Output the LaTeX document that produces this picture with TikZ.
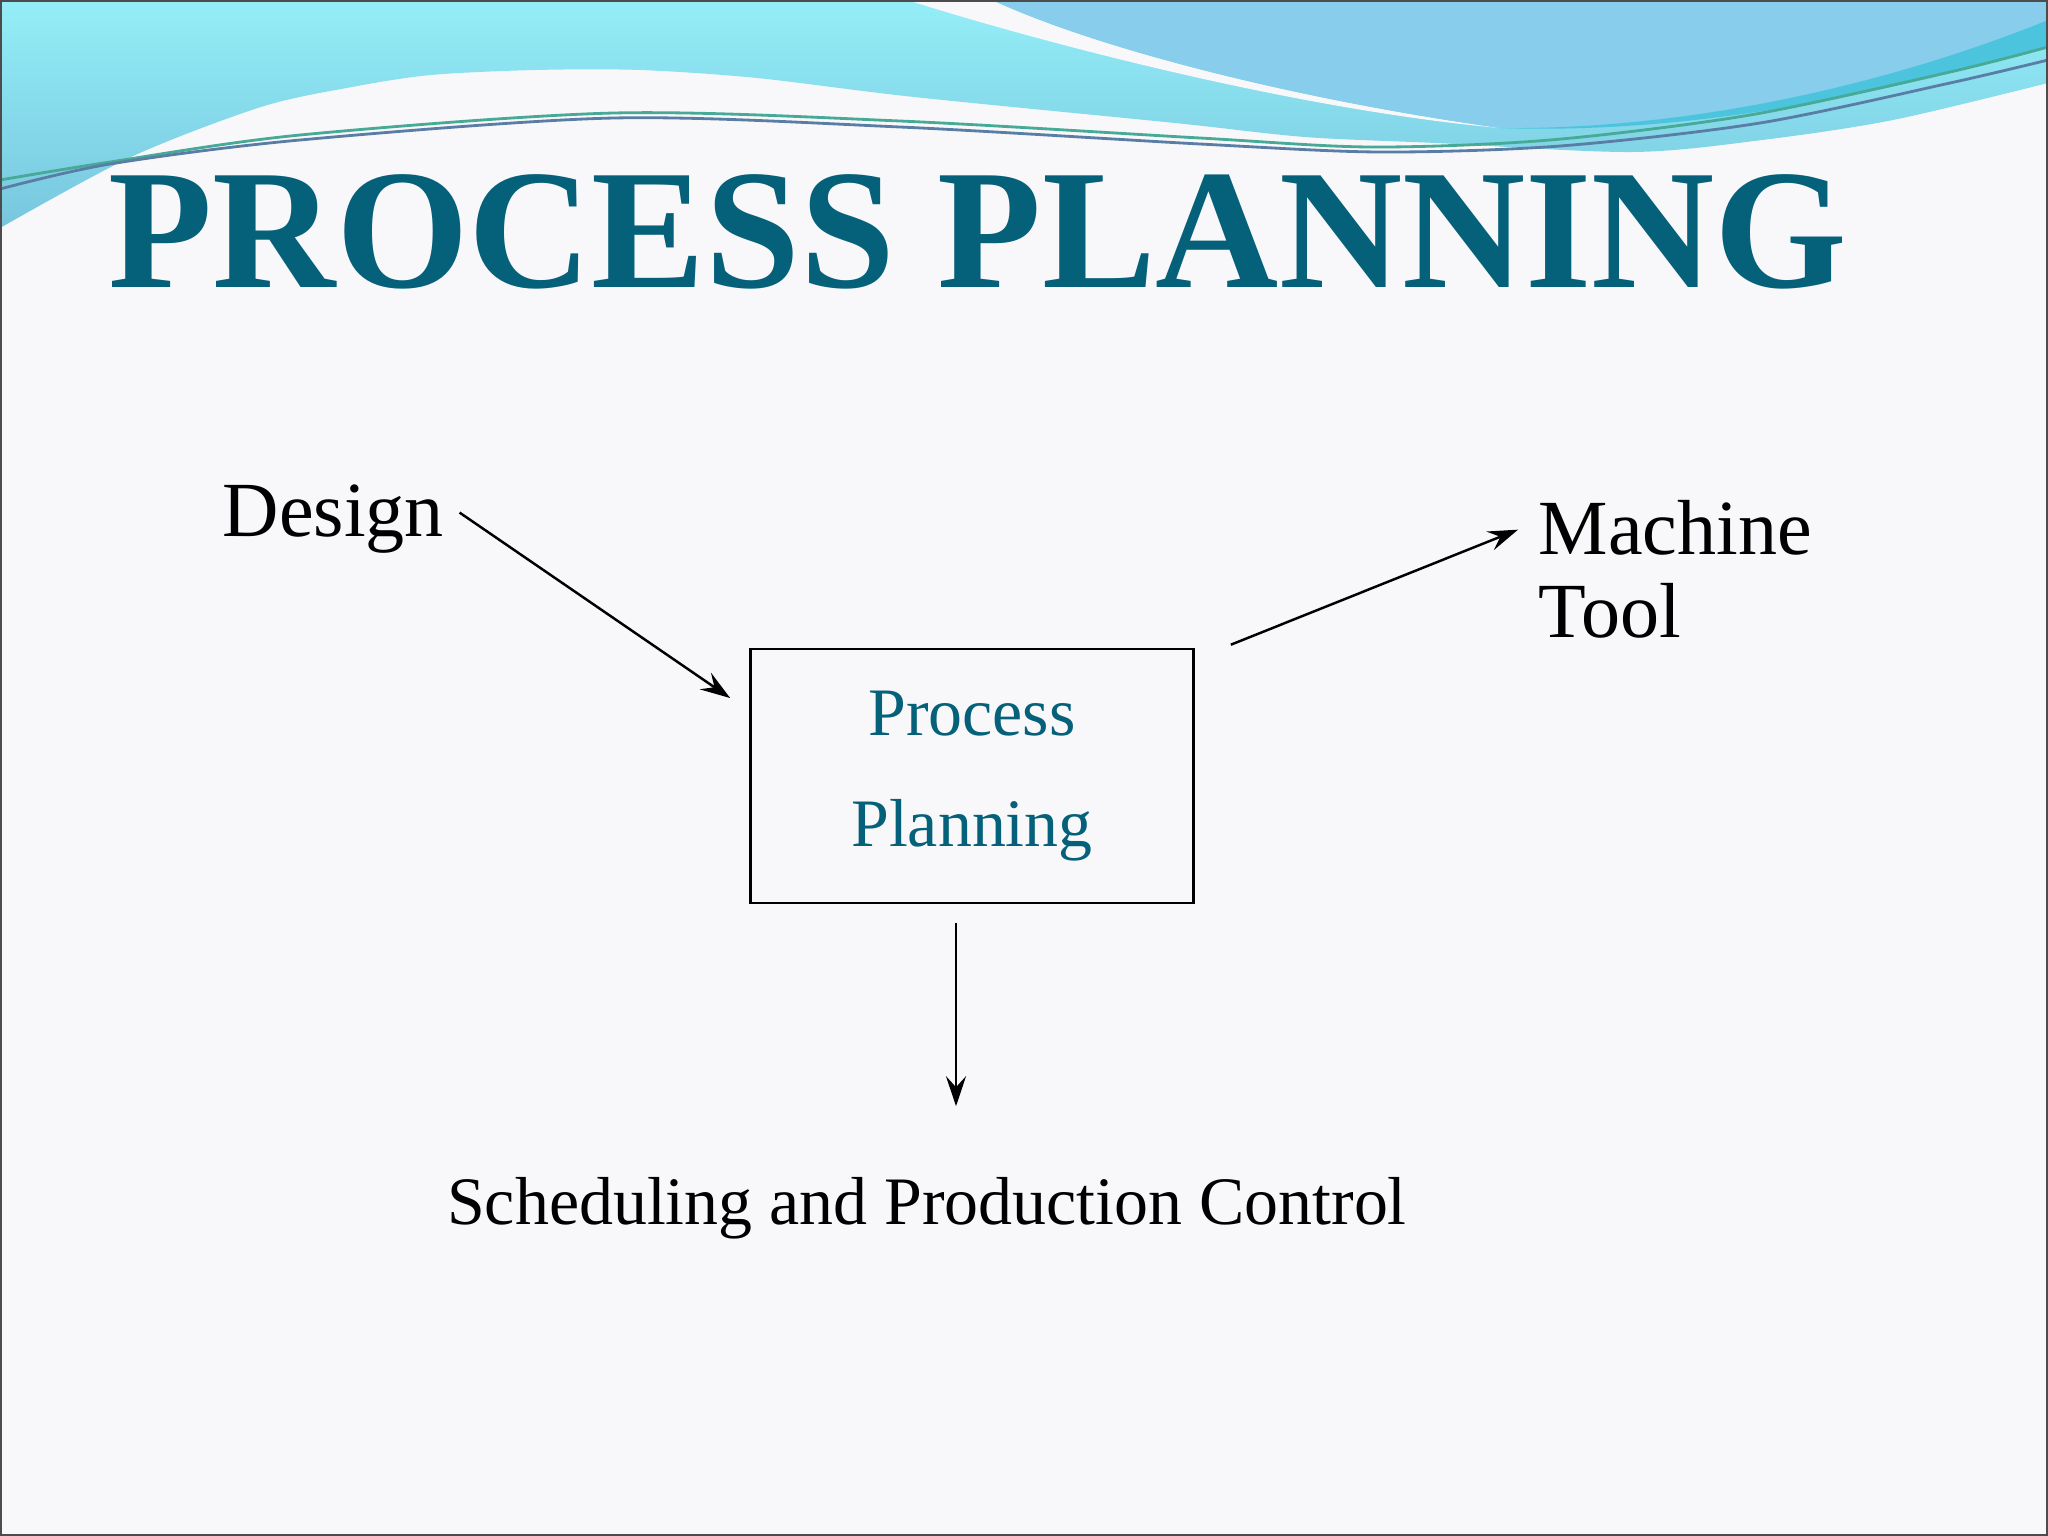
\documentclass[tikz,border=0pt]{standalone}
\usepackage{fontspec}
\setmainfont{Liberation Serif}
\usetikzlibrary{arrows.meta, calc}

\definecolor{slideteal}{RGB}{5,96,122}
\definecolor{slidebg}{RGB}{248,248,250}
\definecolor{waveA}{RGB}{148,238,247}
\definecolor{waveB}{RGB}{120,198,222}
\definecolor{waveblue}{RGB}{136,205,235}
\definecolor{waveband}{RGB}{76,196,222}
\definecolor{linegreen}{RGB}{70,170,150}
\definecolor{lineblue}{RGB}{90,125,165}

\begin{document}
\begin{tikzpicture}[
    x=0.01cm, y=-0.01cm,
    title/.style={anchor=base west, inner sep=0pt, text=slideteal, font=\fontsize{48.5}{52}\selectfont\bfseries},
    word/.style={inner sep=0pt, font=\fontsize{22.2}{23.6}\selectfont},
    small/.style={inner sep=0pt, font=\fontsize{19.3}{22}\selectfont},
    block/.style={rectangle, draw, line width=0.7pt, minimum width=4.43cm, minimum height=2.54cm, align=center, text=slideteal, font=\fontsize{19.3}{31.6}\selectfont},
    arrow/.style={-{Stealth[length=0.3cm, width=0.2cm, inset=0.11cm]}, line width=0.7pt},
    waveline/.style={line width=0.8pt}
]

% Slide background
\useasboundingbox (0,0) rectangle (2048,1536);
\fill[slidebg] (0,0) rectangle (2048,1536);

% Banner waves
\shade[top color=waveA, bottom color=waveB] (0,0) -- (2048,0) -- plot[smooth] coordinates {(2048,83) (1893,120) (1762,140) (1632,152) (1436,143) (1305,137) (1175,123) (914,97) (757,78) (640,70) (535,70) (431,75) (352,87) (261,107) (131,157) (0,228)} -- cycle;
\fill[slidebg] (907,0) .. controls (1050,45) and (1300,110) .. (1500,128) .. controls (1300,100) and (1100,50) .. (992,0) -- cycle;
\fill[waveblue] (992,0) -- (2048,0) -- (2048,20) .. controls (1900,80) and (1700,130) .. (1500,128) .. controls (1300,100) and (1100,50) .. (992,0) -- cycle;
\fill[waveband] (2048,20) .. controls (1900,80) and (1700,130) .. (1500,128) .. controls (1700,135) and (1900,90) .. (2048,46) -- cycle;
\draw[waveline, linegreen] plot[smooth] coordinates {(0,180) (110,162) (300,135) (614,113) (900,121) (1200,138) (1371,147) (1550,140) (1750,115) (1950,72) (2048,47)};
\draw[waveline, lineblue] plot[smooth] coordinates {(0,189) (110,164) (300,140) (614,118) (900,127) (1200,144) (1380,152) (1560,146) (1760,123) (1950,83) (2048,60)};

% Title
\node[title] (title) at (108,287) {PROCESS PLANNING};

% Nodes
\node[word, anchor=base west] (design) at (222,536) {Design};
\node[block] (plan) at (972,776) {Process\\Planning};
\node[word, anchor=north west, align=left] (machine) at (1538,500) {Machine\\Tool};
\node[small, anchor=base] (sched) at (927,1224) {Scheduling and Production Control};

% Connectors
\draw[arrow] ($(design.east)+(15,-6)$) -- ($(plan.west)+(-19,-78)$);
\draw[arrow] ($(plan.north east)+(36,-3)$) -- ($(machine.west)+(-20,-40)$);
\draw[arrow] ($(plan.south)+(-16,19)$) -- ($(sched.north)+(29,-70)$);

% Slide frame
\draw[black!70, line width=0.5pt] (1,1) rectangle (2047,1535);

\end{tikzpicture}
\end{document}
